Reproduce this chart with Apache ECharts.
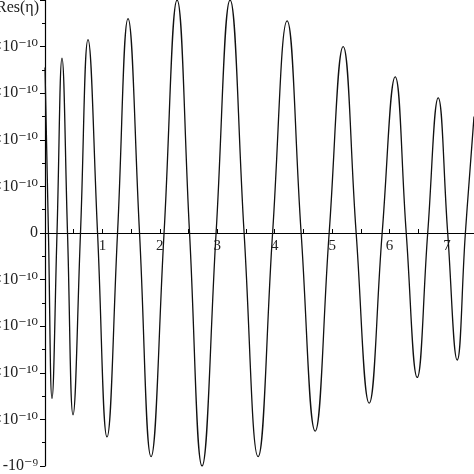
<!DOCTYPE html>
<html><head><meta charset="utf-8">
<script src="https://cdn.jsdelivr.net/npm/echarts@6/dist/echarts.min.js"></script>
<style>html,body{margin:0;padding:0;background:#fff}#c{width:474px;height:474px}</style>
</head><body><div id="c"></div>
<script>
// extrema (x, value in units of 1e-9)
const extremaX = [0, 0.122, 0.296, 0.488, 0.749, 1.080, 1.446, 1.847, 2.300, 2.735, 3.223, 3.711, 4.216, 4.704, 5.192, 5.645, 6.098, 6.481, 6.847, 7.178, 7.47];
const extremaY = [0.71, -0.71, 0.75, -0.78, 0.83, -0.875, 0.92, -0.96, 1.0, -1.0, 1.0, -0.96, 0.91, -0.85, 0.80, -0.73, 0.67, -0.62, 0.58, -0.545, 0.50];
// zero crossings
const zerosX = [0.06, 0.209, 0.392, 0.618, 0.915, 1.263, 1.646, 2.073, 2.517, 2.979, 3.467, 3.963, 4.46, 4.948, 5.418, 5.871, 6.29, 6.664, 7.012, 7.32];
const xTicks = [1, 2, 3, 4, 5, 6, 7];
const yTickLabels = {'0.8':'8×10⁻¹⁰','0.6':'6×10⁻¹⁰','0.4':'4×10⁻¹⁰','0.2':'2×10⁻¹⁰','0':'0','-0.2':'-2×10⁻¹⁰','-0.4':'-4×10⁻¹⁰','-0.6':'-6×10⁻¹⁰','-0.8':'-8×10⁻¹⁰','-1':'-10⁻⁹'};

const pts = [];
extremaX.forEach((x, i) => pts.push([x, extremaY[i] * 1e-9]));
zerosX.forEach(x => pts.push([x, 0]));
pts.sort((a, b) => a[0] - b[0]);

const font = '"Liberation Serif","DejaVu Serif",serif';
const chart = echarts.init(document.getElementById('c'));
chart.setOption({
  animation: false,
  grid: {left: 45, right: 0, top: 0, bottom: 8, containLabel: false, outerBoundsMode: 'none'},
  xAxis: {
    type: 'value', min: 0, max: 7.47, interval: 0.5,
    offset: -233,
    axisLine: {onZero: false, lineStyle: {color: '#000', width: 1.2}},
    axisTick: {inside: true, length: 4, lineStyle: {color: '#000'}},
    axisLabel: {color: '#222', fontFamily: font, fontSize: 15, margin: 6, showMaxLabel: false,
      formatter: v => xTicks.includes(v) ? String(v) : ''},
    splitLine: {show: false}
  },
  yAxis: {
    type: 'value', min: -1e-9, max: 1e-9, interval: 2e-10,
    axisLine: {show: true, lineStyle: {color: '#000', width: 1.2}},
    axisTick: {length: 5, lineStyle: {color: '#000'}},
    minorTick: {show: true, splitNumber: 2, length: 3, lineStyle: {color: '#000'}},
    axisLabel: {color: '#222', fontFamily: font, fontSize: 16, margin: 7,
      formatter: v => { const k = (Math.round(v / 1e-10) / 10).toString(); return k === '1' ? '' : (yTickLabels[k] || ''); }},
    splitLine: {show: false}
  },
  graphic: [{type: 'text', left: -4, top: 0, style: {text: 'Res(η)', font: '16px ' + font, fill: '#222'}}],
  series: [{type: 'line', data: pts, showSymbol: false, smooth: 0.45,
    lineStyle: {color: '#111', width: 1.3}}]
});
</script></body></html>
